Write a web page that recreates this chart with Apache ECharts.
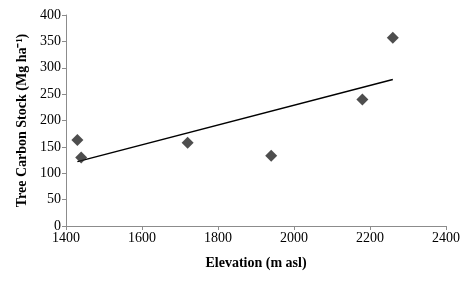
<!DOCTYPE html>
<html>
<head>
<meta charset="utf-8">
<script src="https://cdn.jsdelivr.net/npm/echarts@6/dist/echarts.min.js"></script>
<style>
  html, body { margin: 0; padding: 0; background: #fff; }
  #chart { width: 474px; height: 284px; }
</style>
</head>
<body>
<div id="chart"></div>
<script>
  // elevation (m asl) and tree carbon stock (Mg ha-1)
  var elevation = [1430, 1440, 1720, 1940, 2180, 2260];
  var carbon = [163, 130, 158, 133, 240, 357];
  var xTicks = [1400, 1600, 1800, 2000, 2200, 2400];
  var yTicks = [0, 50, 100, 150, 200, 250, 300, 350, 400];

  var points = elevation.map(function (x, i) { return [x, carbon[i]]; });

  // least squares trend line over the data range
  var n = elevation.length;
  var mx = 0, my = 0;
  for (var i = 0; i < n; i++) { mx += elevation[i]; my += carbon[i]; }
  mx /= n; my /= n;
  var sxy = 0, sxx = 0;
  for (var i = 0; i < n; i++) {
    sxy += (elevation[i] - mx) * (carbon[i] - my);
    sxx += (elevation[i] - mx) * (elevation[i] - mx);
  }
  var slope = sxy / sxx;
  var icpt = my - slope * mx;
  var xmin = Math.min.apply(null, elevation);
  var xmax = Math.max.apply(null, elevation);
  var trend = [[xmin, icpt + slope * xmin], [xmax, icpt + slope * xmax]];

  var chart = echarts.init(document.getElementById('chart'));
  var font = 'Liberation Serif';
  var option = {
    backgroundColor: '#fff',
    animation: false,
    grid: { left: 66, right: 28, top: 15, bottom: 58 },
    xAxis: {
      type: 'value',
      min: xTicks[0],
      max: xTicks[xTicks.length - 1],
      interval: 200,
      name: 'Elevation (m asl)',
      nameLocation: 'middle',
      nameGap: 30,
      nameTextStyle: { fontFamily: font, fontSize: 14, fontWeight: 'bold', color: '#000' },
      axisLine: { show: true, lineStyle: { color: '#8c8c8c', width: 1 } },
      axisTick: { show: true, length: 4, lineStyle: { color: '#8c8c8c' } },
      axisLabel: { fontFamily: font, fontSize: 14, color: '#000', margin: 5,
        formatter: function (v) { return String(v); } },
      splitLine: { show: false }
    },
    yAxis: {
      type: 'value',
      min: yTicks[0],
      max: yTicks[yTicks.length - 1],
      interval: 50,
      name: 'Tree Carbon Stock (Mg ha\u207B\u00B9)',
      nameLocation: 'middle',
      nameGap: 36,
      nameTextStyle: { fontFamily: font, fontSize: 14, fontWeight: 'bold', color: '#000' },
      axisLine: { show: true, lineStyle: { color: '#8c8c8c', width: 1 } },
      axisTick: { show: true, length: 4, lineStyle: { color: '#8c8c8c' } },
      axisLabel: { fontFamily: font, fontSize: 14, color: '#000', margin: 5 },
      splitLine: { show: false }
    },
    series: [{
      type: 'scatter',
      data: points,
      symbol: 'diamond',
      symbolSize: 12,
      itemStyle: { color: '#222' },
      z: 3
    }, {
      type: 'line',
      data: trend,
      symbol: 'none',
      lineStyle: { color: '#000', width: 1.5 },
      z: 2
    }]
  };
  chart.setOption(option);
</script>
</body>
</html>
